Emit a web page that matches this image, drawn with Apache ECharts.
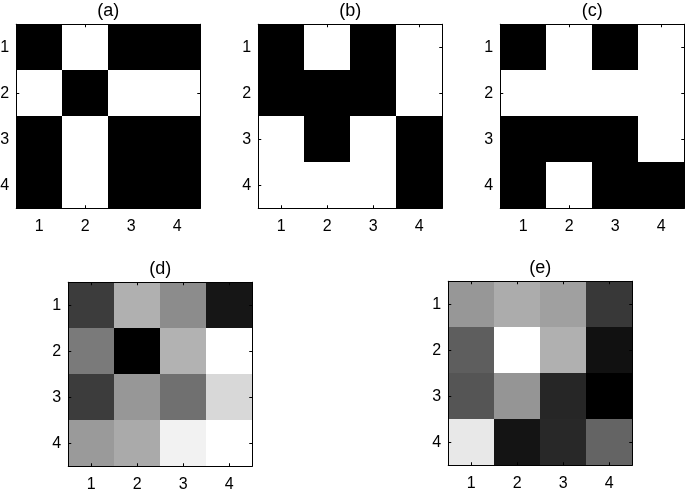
<!DOCTYPE html>
<html>
<head>
<meta charset="utf-8">
<script src="https://cdn.jsdelivr.net/npm/echarts@6/dist/echarts.min.js"></script>
<style>
html, body { margin: 0; padding: 0; background: #fff; }
#chart { width: 685px; height: 490px; }
</style>
</head>
<body>
<div id="chart"></div>
<script>
const tickLabels = ['1', '2', '3', '4'];
const panelNames = ['(a)', '(b)', '(c)', '(d)', '(e)'];

// grey level of each cell, rows listed top to bottom (0 = black, 255 = white)
const panelA = [
    [0, 255, 0, 0],
    [255, 0, 255, 255],
    [0, 255, 0, 0],
    [0, 255, 0, 0],
];
const panelB = [
    [0, 255, 0, 255],
    [0, 0, 0, 255],
    [255, 0, 255, 0],
    [255, 255, 255, 0],
];
const panelC = [
    [0, 255, 0, 255],
    [255, 255, 255, 255],
    [0, 0, 0, 255],
    [0, 255, 0, 0],
];
const panelD = [
    [60, 176, 140, 22],
    [122, 0, 178, 255],
    [60, 151, 112, 216],
    [154, 170, 242, 255],
];
const panelE = [
    [151, 172, 160, 56],
    [94, 255, 176, 17],
    [85, 149, 38, 0],
    [232, 20, 40, 100],
];
const panels = [panelA, panelB, panelC, panelD, panelE];

// plot boxes: left, top, width, height (px)
const boxes = [
    [16, 24, 184, 184],
    [258, 24, 184, 184],
    [500, 24, 184, 184],
    [68, 282, 184, 184],
    [448, 281, 184, 184],
];
// heatmap cells are drawn 0.5px wider than the band, centred; this nudge puts their edges on whole pixels
const cellNudge = 0.25;

const font = 'Liberation Sans, Arial, sans-serif';
const black = '#000';

function axisBase(show) {
    return {
        type: 'category',
        data: tickLabels,
        z: 5,
        axisLine: {show: true, onZero: false, lineStyle: {color: black, width: 1}},
        axisTick: {show: true, inside: true, length: 3, alignWithLabel: true,
            lineStyle: {color: black, width: 1}},
        axisLabel: {show: show, color: black, fontFamily: font, fontSize: 16},
        splitLine: {show: false},
    };
}

const grid = [];
const xAxis = [];
const yAxis = [];
const series = [];

panels.forEach((rows, i) => {
    const [left, top, width, height] = boxes[i];
    grid.push({
        left: left + cellNudge,
        top: top + cellNudge,
        width,
        height,
        containLabel: false,
        outerBoundsMode: 'none',
    });

    const bottom = axisBase(true);
    bottom.gridIndex = i;
    bottom.position = 'bottom';
    bottom.axisLabel.margin = 10;
    const topAx = axisBase(false);
    topAx.gridIndex = i;
    topAx.position = 'top';
    topAx.name = panelNames[i];
    topAx.nameLocation = 'middle';
    topAx.nameGap = 4;
    topAx.nameTextStyle = {color: black, fontFamily: font, fontSize: 18};
    xAxis.push(bottom, topAx);

    const leftAx = axisBase(true);
    leftAx.gridIndex = i;
    leftAx.position = 'left';
    leftAx.inverse = true;
    leftAx.axisLabel.margin = 7;
    const rightAx = axisBase(false);
    rightAx.gridIndex = i;
    rightAx.position = 'right';
    rightAx.inverse = true;
    yAxis.push(leftAx, rightAx);

    const data = [];
    rows.forEach((row, r) => {
        row.forEach((v, c) => data.push([c, r, v]));
    });
    series.push({
        type: 'heatmap',
        xAxisIndex: 2 * i,
        yAxisIndex: 2 * i,
        data,
        itemStyle: {borderWidth: 0},
        emphasis: {disabled: true},
    });
});

const chart = echarts.init(document.getElementById('chart'), null, {renderer: 'canvas'});
chart.setOption({
    animation: false,
    backgroundColor: '#fff',
    grid,
    xAxis,
    yAxis,
    visualMap: {
        show: false,
        min: 0,
        max: 255,
        calculable: false,
        inRange: {color: ['#000000', '#ffffff']},
    },
    series,
});
</script>
</body>
</html>
